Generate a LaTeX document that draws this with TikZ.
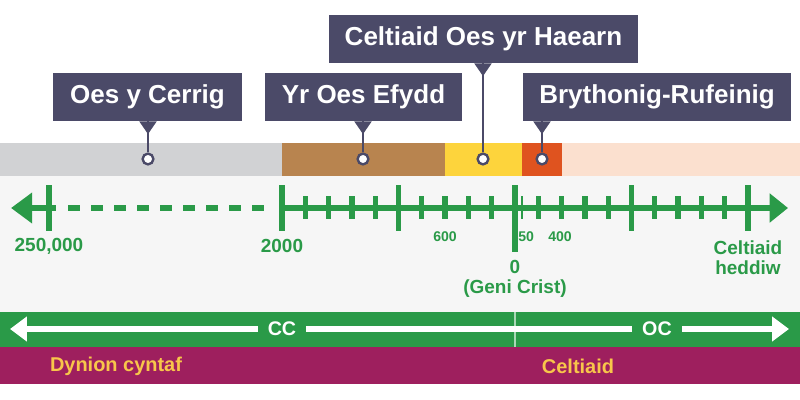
\documentclass[tikz,border=0pt]{standalone}
\usepackage{fontspec}
\setmainfont{Liberation Sans}
\usetikzlibrary{arrows.meta}

\definecolor{slate}{HTML}{4B4A68}
\definecolor{bargrey}{HTML}{D1D2D4}
\definecolor{bronze}{HTML}{B8844F}
\definecolor{iron}{HTML}{FDD43C}
\definecolor{roman}{HTML}{DF531F}
\definecolor{peach}{HTML}{FBE0CF}
\definecolor{tlgreen}{HTML}{2A9A48}
\definecolor{plum}{HTML}{9E1F5E}
\definecolor{gold}{HTML}{F8C64A}
\definecolor{paper}{HTML}{F6F6F6}

\begin{document}
\begin{tikzpicture}[x=0.25mm, y=-0.25mm,
    callout/.style={fill=slate, text=white, inner sep=0pt, minimum height=1.2cm,
      font=\bfseries\fontsize{18.5}{22}\selectfont},
    pin/.style={circle, draw=slate, fill=white, line width=1.7pt, minimum size=0.27cm, inner sep=0pt},
    stem/.style={slate, line width=1.3pt},
    axis/.style={tlgreen, line width=4.6pt},
    tick/.style={tlgreen, line width=3.8pt},
    lab/.style={text=tlgreen, font=\bfseries\fontsize{13.5}{14.5}\selectfont},
    small/.style={text=tlgreen, font=\bfseries\fontsize{10}{12}\selectfont},
    band/.style={text=white, font=\bfseries\fontsize{14}{16}\selectfont, inner sep=7pt},
    bandarrow/.style={white, line width=4pt, -{Triangle[length=12pt,width=17pt]}},
    era/.style={text=gold, font=\bfseries\fontsize{14.2}{16}\selectfont}]

\useasboundingbox (0,0) rectangle (800,400);
\fill[white] (0,0) rectangle (800,400);
\fill[paper] (0,176) rectangle (800,312);

% period bar
\fill[bargrey] (0,143) rectangle (282,176);
\fill[bronze] (282,143) rectangle (445,176);
\fill[iron] (445,143) rectangle (522,176);
\fill[roman] (522,143) rectangle (562,176);
\fill[peach] (562,143) rectangle (800,176);

% callouts
\node[callout, minimum width=4.725cm] (cerrig) at (147.5,97) {Oes y Cerrig};
\node[callout, minimum width=4.925cm] (efydd) at (363.5,97) {Yr Oes Efydd};
\node[callout, minimum width=7.725cm] (haearn) at (483.5,39) {Celtiaid Oes yr Haearn};
\node[callout, minimum width=6.7cm] (rhuf) at (657,97) {Brythonig-Rufeinig};

\node[pin] (p1) at (148,159) {};
\node[pin] (p2) at (363,159) {};
\node[pin] (p3) at (483,159) {};
\node[pin] (p4) at (542,159) {};

\foreach \co/\pn in {cerrig/p1, efydd/p2, haearn/p3, rhuf/p4} {
  \path (\co.south -| \pn) coordinate (t);
  \fill[slate] ([xshift=-0.22cm]t) -- ([xshift=0.22cm]t) -- ([yshift=-0.32cm]t) -- cycle;
  \draw[stem] (t) -- (\pn);
}

% time line
\draw[axis, {Triangle[length=15pt,width=21pt]}-] (11,208) -- (56,208);
\draw[axis, dash pattern=on 8.5pt off 7.86pt] (68,208) -- (264,208);
\draw[axis, -{Triangle[length=13pt,width=20pt]}] (282,208) -- (788,208);
\foreach \x in {49,282,398.5,631.5,748}
  \draw[tick] (\x,185) -- (\x,231);
\foreach \k in {1,2,3,4,6,7,8,9,11,12,13,14,16,17,18,19}
  \draw[tick] ({282+23.3*\k},196) -- ({282+23.3*\k},219);
\draw[tick] (515,185) -- (515,252);
\draw[tlgreen, line width=1.4pt] (522,196) -- (522,219);

\node[lab] (l250) at (49,246) {250,000};
\node[lab] (l2000) at (282,246) {2000};
\node[small] (l600) at (445,237) {600};
\node[small, anchor=west, inner sep=0pt] (l50) at (518,237) {50};
\node[small] (l400) at (560,237) {400};
\node[lab, align=center] (zero) at (515,279) {0\\(Geni Crist)};
\node[lab, align=center] (heddiw) at (748,258) {Celtiaid\\heddiw};

% CC / OC band
\fill[tlgreen] (0,312) rectangle (800,347);
\fill[plum] (0,347) rectangle (800,384);
\draw[white!60!tlgreen, line width=0.8pt] (515,312) -- (515,347);
\node[band] (cc) at (282,329) {CC};
\node[band] (oc) at (657,329) {OC};
\draw[bandarrow] (cc.west) -- (10,329);
\draw[bandarrow, -] (cc.east) -- (oc.west);
\draw[bandarrow] (oc.east) -- (789,329);

\node[era] (dynion) at (116,366) {Dynion cyntaf};
\node[era] (celtiaid) at (578,366) {Celtiaid};
\end{tikzpicture}
\end{document}
